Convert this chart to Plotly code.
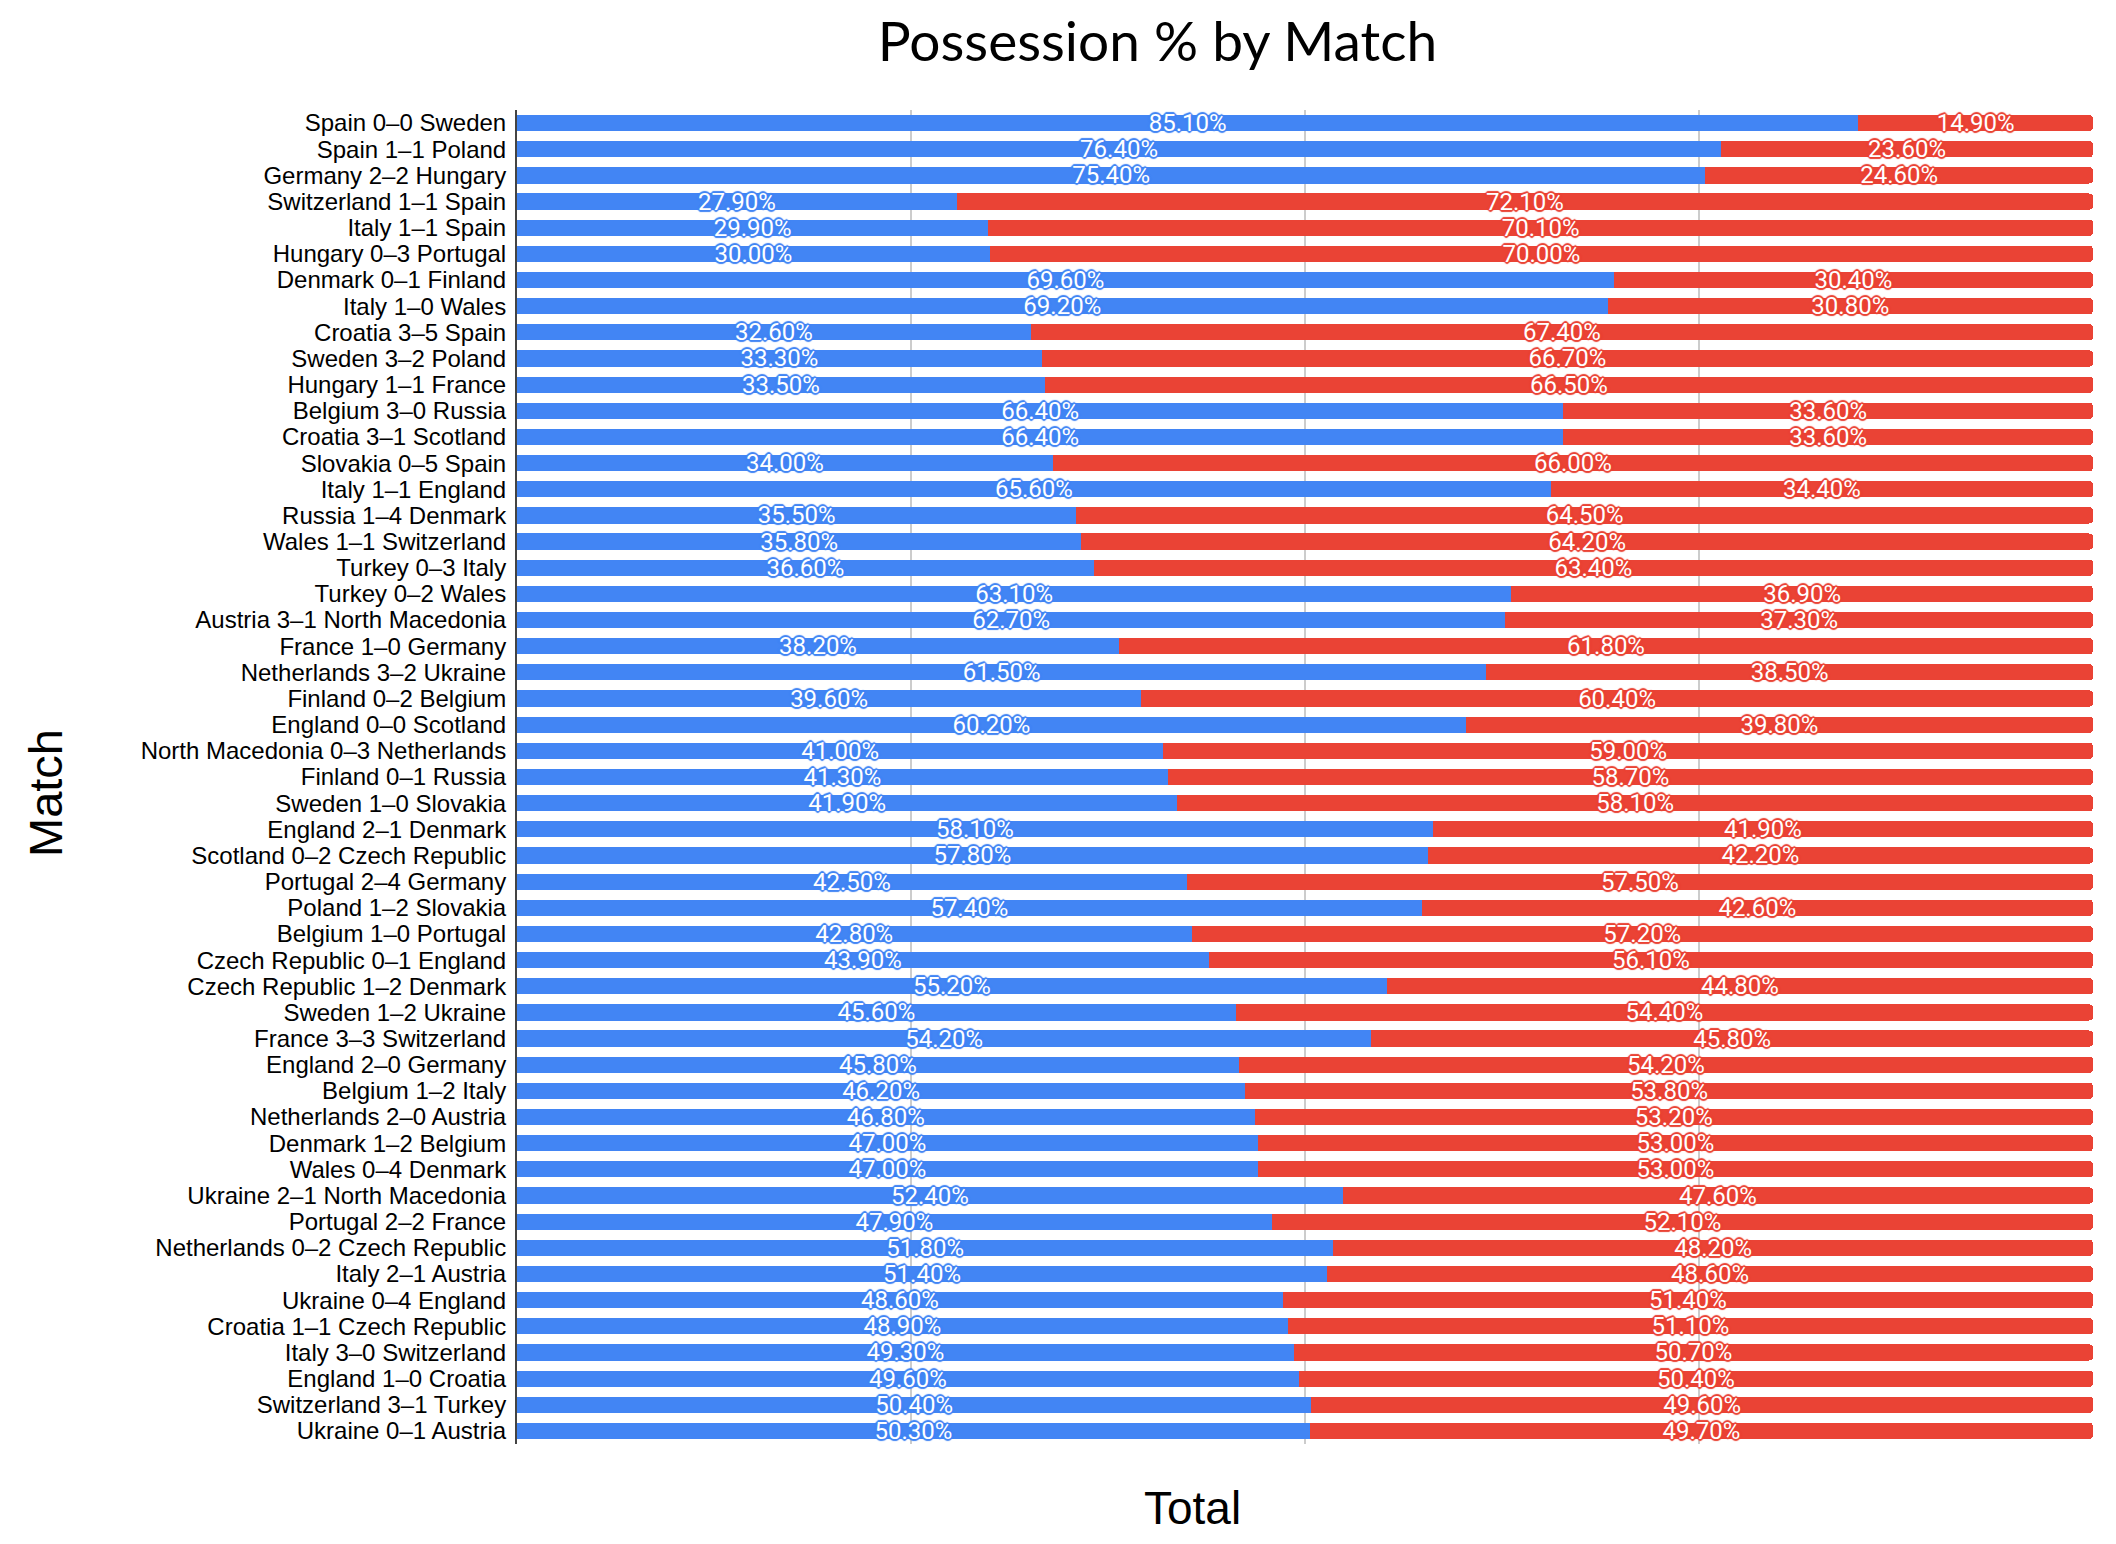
import plotly.graph_objects as go

matches = [
    "Spain 0–0 Sweden", "Spain 1–1 Poland", "Germany 2–2 Hungary", "Switzerland 1–1 Spain",
    "Italy 1–1 Spain", "Hungary 0–3 Portugal", "Denmark 0–1 Finland", "Italy 1–0 Wales",
    "Croatia 3–5 Spain", "Sweden 3–2 Poland", "Hungary 1–1 France", "Belgium 3–0 Russia",
    "Croatia 3–1 Scotland", "Slovakia 0–5 Spain", "Italy 1–1 England", "Russia 1–4 Denmark",
    "Wales 1–1 Switzerland", "Turkey 0–3 Italy", "Turkey 0–2 Wales", "Austria 3–1 North Macedonia",
    "France 1–0 Germany", "Netherlands 3–2 Ukraine", "Finland 0–2 Belgium", "England 0–0 Scotland",
    "North Macedonia 0–3 Netherlands", "Finland 0–1 Russia", "Sweden 1–0 Slovakia",
    "England 2–1 Denmark", "Scotland 0–2 Czech Republic", "Portugal 2–4 Germany",
    "Poland 1–2 Slovakia", "Belgium 1–0 Portugal", "Czech Republic 0–1 England",
    "Czech Republic 1–2 Denmark", "Sweden 1–2 Ukraine", "France 3–3 Switzerland",
    "England 2–0 Germany", "Belgium 1–2 Italy", "Netherlands 2–0 Austria", "Denmark 1–2 Belgium",
    "Wales 0–4 Denmark", "Ukraine 2–1 North Macedonia", "Portugal 2–2 France",
    "Netherlands 0–2 Czech Republic", "Italy 2–1 Austria", "Ukraine 0–4 England",
    "Croatia 1–1 Czech Republic", "Italy 3–0 Switzerland", "England 1–0 Croatia",
    "Switzerland 3–1 Turkey", "Ukraine 0–1 Austria",
]

home_possession = [
    85.1, 76.4, 75.4, 27.9, 29.9, 30.0, 69.6, 69.2, 32.6, 33.3, 33.5, 66.4, 66.4, 34.0, 65.6,
    35.5, 35.8, 36.6, 63.1, 62.7, 38.2, 61.5, 39.6, 60.2, 41.0, 41.3, 41.9, 58.1, 57.8, 42.5,
    57.4, 42.8, 43.9, 55.2, 45.6, 54.2, 45.8, 46.2, 46.8, 47.0, 47.0, 52.4, 47.9, 51.8, 51.4,
    48.6, 48.9, 49.3, 49.6, 50.4, 50.3,
]

away_possession = [
    14.9, 23.6, 24.6, 72.1, 70.1, 70.0, 30.4, 30.8, 67.4, 66.7, 66.5, 33.6, 33.6, 66.0, 34.4,
    64.5, 64.2, 63.4, 36.9, 37.3, 61.8, 38.5, 60.4, 39.8, 59.0, 58.7, 58.1, 41.9, 42.2, 57.5,
    42.6, 57.2, 56.1, 44.8, 54.4, 45.8, 54.2, 53.8, 53.2, 53.0, 53.0, 47.6, 52.1, 48.2, 48.6,
    51.4, 51.1, 50.7, 50.4, 49.6, 49.7,
]

x_grid = [0, 25, 50, 75, 100]

BLUE = "#4285F4"
RED = "#EA4335"


def outline(c):
    offs = [(-1, -1), (1, -1), (-1, 1), (1, 1), (0, 2), (0, -2), (2, 0), (-2, 0)]
    return ", ".join(f"{dx}px {dy}px 1px {c}" for dx, dy in offs)


fig = go.Figure()
for name, vals, col in [("Home", home_possession, BLUE), ("Away", away_possession, RED)]:
    fig.add_trace(go.Bar(
        y=matches, x=vals, orientation="h", name=name,
        marker=dict(color=col, line=dict(width=0)),
        texttemplate="%{x:.2f}%", textposition="inside", insidetextanchor="middle",
        textfont=dict(family="Roboto", size=24, color="white", shadow=outline(col)),
        constraintext="none", cliponaxis=False,
    ))

fig.update_layout(
    width=2116, height=1544,
    barmode="stack", bargap=0.38, barcornerradius=4,
    showlegend=False,
    plot_bgcolor="white", paper_bgcolor="white",
    margin=dict(l=517, r=23, t=110, b=100),
    uniformtext=dict(mode="show", minsize=24),
    title=dict(text="Possession % by Match", x=0.547, xanchor="center", y=0.973, yanchor="middle",
               font=dict(family="Lato", size=55, color="black")),
    xaxis=dict(range=[0, 100], tickvals=x_grid, showticklabels=False, showgrid=True,
               gridcolor="#cccccc", gridwidth=1.5, zeroline=False, showline=False, fixedrange=True),
    yaxis=dict(autorange="reversed", showline=True, linecolor="#444444", linewidth=2,
               tickmode="array", tickvals=matches, ticktext=matches,
               ticks="", ticklabelstandoff=4,
               tickfont=dict(family="Liberation Sans", size=24, color="black"), showgrid=False),
    annotations=[
        dict(text="Total", xref="paper", yref="paper", x=(1192 - 517) / (2116 - 517 - 23),
             y=-(1508 - 1444) / (1444 - 110), xanchor="center", yanchor="middle", showarrow=False,
             font=dict(family="Liberation Sans", size=46, color="black")),
        dict(text="Match", xref="paper", yref="paper", x=-(517 - 45) / (2116 - 517 - 23),
             y=1 - (793 - 110) / (1444 - 110), xanchor="center", yanchor="middle", showarrow=False,
             textangle=-90, font=dict(family="Liberation Sans", size=47, color="black")),
    ],
)

fig.write_html("out.html")
